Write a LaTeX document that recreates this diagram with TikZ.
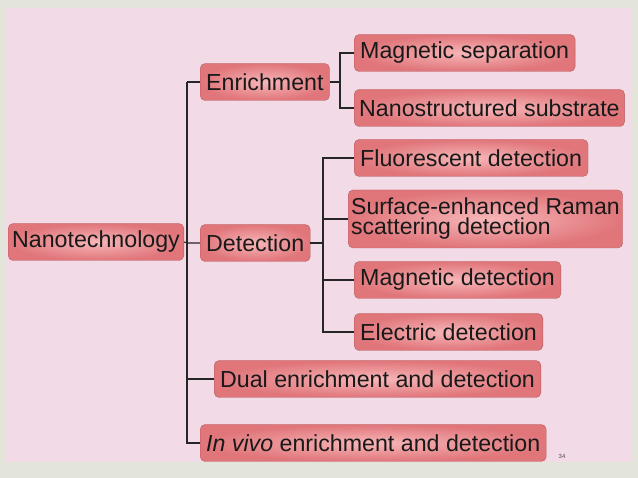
\documentclass[tikz,border=0pt]{standalone}
\usepackage{fontspec}
\setmainfont{Liberation Sans}
\definecolor{bg}{HTML}{F2DAE6}
\definecolor{outer}{HTML}{E0757A}
\definecolor{inner}{HTML}{F7B6B8}
\definecolor{frame}{HTML}{E3E5DA}
\begin{document}
\begin{tikzpicture}[x=1pt,y=-1pt,
  bx/.style={rounded corners=5pt,inner color=inner,outer color=outer,draw=outer!80!black,line width=0.4pt,
    anchor=west,inner xsep=6pt,inner ysep=0pt,minimum height=37pt,font=\fontsize{23.2}{22}\selectfont,text=black!90},
  ln/.style={line width=1.1pt,draw=black!85}]
\fill[frame] (0,0) rectangle (638,478);
\fill[bg] (5,8) rectangle (632,462);
\node[bx,inner xsep=4pt] (nano) at (8,242) {Nanotechnology};
\node[bx] (enr) at (200,82) {Enrichment};
\node[bx] (det) at (200,243) {Detection};
\node[bx] (ms) at (354,53) {Magnetic separation};
\node[bx,inner xsep=5pt] (ns) at (354,108) {Nanostructured substrate};
\node[bx] (fl) at (354,158) {Fluorescent detection};
\node[bx,minimum height=58pt,align=left,font=\fontsize{23}{20}\selectfont,inner xsep=3pt] (se) at (348,219) {Surface-enhanced Raman\\scattering detection};
\node[bx] (md) at (354,280) {Magnetic detection};
\node[bx] (ed) at (354,332) {Electric detection};
\node[bx] (du) at (214,379) {Dual enrichment and detection};
\node[bx] (iv) at (200,443) {\textit{In vivo} enrichment and detection};
\node[font=\fontsize{6}{6}\selectfont,text=black!70] (pg) at (562,456) {34};
\coordinate (t1) at (187,82); \coordinate (t2) at (187,443);
\draw[ln] (t1) -- (enr.west); \draw[ln] (t1) -- (t2) -- (iv.west);
\draw[ln] (nano.east) -- (187,243) -- (det.west);
\draw[ln] (du.west) -- (187,379);
\coordinate (e1) at (340,53); \coordinate (e2) at (340,108);
\draw[ln] (enr.east) -- (340,82);
\draw[ln] (ms.west) -- (e1) -- (e2) -- (ns.west);
\coordinate (d1) at (323,158); \coordinate (d2) at (323,332);
\draw[ln] (det.east) -- (323,243);
\draw[ln] (fl.west) -- (d1) -- (d2) -- (ed.west);
\draw[ln] (se.west) -- (323,219);
\draw[ln] (md.west) -- (323,280);
\end{tikzpicture}
\end{document}
